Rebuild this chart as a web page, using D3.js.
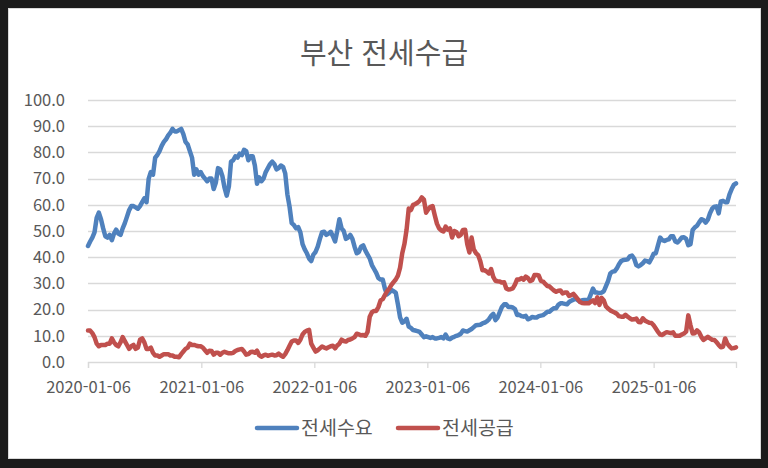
<!DOCTYPE html>
<html lang="ko">
<head>
<meta charset="utf-8">
<title>부산 전세수급</title>
<script src="https://d3js.org/d3.v7.min.js"></script>
<style>
  body { margin: 0; background: #1b1b1b; }
  svg { display: block; }
  .tick text { fill: #595959; }
</style>
</head>
<body>
<script>
// weekly index, starts 2020-01-06
var startDate = "2020-01-06";

var demand = [
  44.3, 46, 47.5, 49.5, 55, 57, 54.5, 51, 48, 47.5,
  48.5, 46.5, 49, 50.5, 49, 48.5, 51, 53, 55.5, 58,
  59.5, 59.5, 59, 58.5, 59.5, 61, 62.5, 61, 70, 72.5,
  71.5, 78, 79, 80.5, 82.5, 84, 85, 86.5, 87.5, 89,
  88, 88, 88.5, 89, 87, 84, 83, 80.5, 78, 71.5,
  73.5, 71.5, 72.5, 71, 70, 69, 70, 70, 66, 68.5,
  74, 73.5, 71, 66.5, 63.5, 67, 76.5, 77, 78.5, 78,
  79.5, 79, 81, 80.5, 77, 78.5, 78.5, 75, 68, 70.5,
  69, 70, 72.5, 74, 75.5, 76.5, 75.5, 73.5, 74, 75,
  74.5, 72, 64, 59.3, 53, 52.3, 51, 51.5, 49.5, 45,
  43, 41.5, 39.5, 38.5, 41, 42, 44, 47, 49.5, 49.7,
  48.5, 49, 49.7, 48, 46, 50, 54.5, 51, 50, 47,
  47.5, 48.5, 47, 44, 41.5, 42, 44, 44.5, 42.5, 41,
  39.5, 37, 35.5, 34, 32, 31.5, 31.5, 28, 25.8, 26.5,
  27.5, 27, 26.5, 22, 17, 15, 15.5, 16.5, 13.5, 13,
  12.2, 12, 11.8, 11.5, 10.5, 9.5, 9.8, 9.5, 9.2, 9.5,
  9, 9, 9.2, 9.5, 9, 10.5, 9, 8.7, 9.3, 9.6,
  10, 10.3, 10.8, 12, 11.8, 11.6, 12.1, 12.6, 13.3, 14,
  14.1, 14.2, 14.7, 15, 15.5, 16.3, 17.6, 18.4, 16, 17,
  19, 21, 22, 22, 21, 21, 20.8, 20.2, 17.9, 18,
  17.5, 17.3, 17.6, 16.3, 16.6, 17.2, 17, 17, 17.5, 17.7,
  17.9, 18.5, 19.2, 19.2, 20, 20.5, 20.5, 21.8, 22.4, 22.4,
  22.2, 22, 22.9, 23.4, 23.8, 24.2, 23.6, 23, 23.6, 23.7,
  23.7, 23.7, 25.8, 28, 26.5, 26.5, 26.3, 26.5, 27, 29,
  31, 33.8, 34.5, 34.6, 35.7, 37.3, 38.5, 38.9, 39, 39.2,
  40.3, 40.6, 39.5, 37, 36.5, 37, 37.7, 38.7, 38.5, 38,
  39.5, 41.3, 41.5, 44.5, 47.5, 46.5, 46.2, 46.6, 46.8, 48,
  48, 46, 45.6, 46.5, 47.5, 47.6, 47, 44.6, 45, 50.4,
  51.4, 52, 53.3, 54.5, 54.2, 53.2, 54.3, 56.8, 58.5, 59.3,
  59.4, 56.7, 61.3, 61.5, 61, 61, 64, 66, 67.6, 68.2
];

var supply = [
  12, 12, 11, 9.5, 7, 6, 6.5, 6.5, 6.5, 7,
  7, 9, 7.5, 6.5, 6, 7.5, 9.5, 8, 6.5, 5,
  6, 6.5, 5, 5.5, 8.5, 9, 7.5, 5, 5, 5.5,
  3.5, 2.5, 2.5, 2, 2.5, 3, 3, 3, 2.5, 2.5,
  2, 2, 1.8, 3, 4, 5, 5.5, 7, 6.5, 6.5,
  6.2, 6, 6, 5.5, 4.5, 3.5, 4.3, 4.2, 2.8, 3.5,
  3.5, 2.8, 3.5, 3.9, 3.6, 3.3, 3.3, 3.5, 4.2, 4.6,
  4.8, 5, 4, 2.8, 3, 3.8, 3.9, 3.5, 4.3, 2.6,
  2, 2.5, 2.8, 2.4, 2.6, 2.8, 2.5, 2.6, 3.2, 2.5,
  2, 3, 4.5, 6.2, 7.8, 8.2, 8.2, 7.3, 8.5, 10.5,
  11.5, 12, 12.3, 7, 5.5, 4, 4.5, 5.2, 5.9, 5.5,
  5.2, 5.6, 6, 6.2, 5.2, 6.3, 7, 8.5, 8, 7.8,
  8.4, 8.6, 9, 9.5, 10.8, 10.5, 10.2, 10.3, 10, 11.5,
  17.3, 19, 19.5, 19.5, 21, 23.5, 24, 25.5, 27, 28,
  29.4, 30.5, 31.5, 33, 36, 41.5, 45, 50.5, 58.6, 58,
  60, 60.3, 60.8, 61.5, 62.8, 62, 57, 58.3, 59.2, 59.5,
  56, 52.8, 51, 50.2, 49.8, 51.7, 50.5, 51, 47.5, 50,
  49.6, 48, 48.5, 50.4, 50.5, 45, 41.8, 47.5, 43, 41.6,
  40.8, 38.5, 35, 35, 34.5, 33.8, 35.5, 32.5, 31, 30.8,
  30.7, 30.3, 30.4, 28.1, 27.7, 27.8, 28.1, 29.5, 31.5, 31.5,
  32, 31.4, 32.6, 32, 30.9, 31.2, 33.2, 33.2, 33, 31,
  30.7, 29.8, 29, 28.8, 28, 27.3, 26.8, 27.2, 27.3, 26.2,
  26.5, 26.5, 25.2, 25.5, 26, 25, 24, 22.9, 22.5, 22.4,
  22.4, 22.4, 23, 23.5, 22.5, 24.7, 21.8, 24.5, 23.5, 21.2,
  20.4, 19.7, 19.3, 18.9, 18.4, 17.5, 17.3, 17.3, 18, 17.3,
  16.7, 16.2, 16.3, 16.6, 15.3, 15.2, 16.7, 15.8, 15.4, 15,
  14.9, 14, 12.8, 11.5, 10.5, 10.3, 10.9, 11.4, 11.2, 11,
  11.3, 10, 10, 10, 10.5, 10.9, 11.6, 17.8, 14, 10.9,
  11, 12.1, 11.3, 9.6, 8.4, 9, 9.6, 9, 8.5, 8.4,
  7.6, 6.5, 5.6, 5.8, 9, 7, 6, 5.2, 5.3, 5.6
];

var yTicks = [0, 10, 20, 30, 40, 50, 60, 70, 80, 90, 100];
var xTickLabels = ["2020-01-06", "2021-01-06", "2022-01-06", "2023-01-06", "2024-01-06", "2025-01-06"];
var seriesNames = ["전세수요", "전세공급"];
var seriesColors = ["#4f81bd", "#c0504d"];

var W = 768, H = 468;
var margin = {top: 100, right: 32, bottom: 106, left: 88};
var width = W - margin.left - margin.right,
    height = H - margin.top - margin.bottom;

var parse = d3.utcParse("%Y-%m-%d");
var fmt = d3.utcFormat("%Y-%m-%d");
var t0 = parse(startDate);
var dates = demand.map(function(d, i) { return d3.utcDay.offset(t0, 7 * i); });

var svg = d3.select("body").append("svg")
    .attr("width", W)
    .attr("height", H);

// chart area
svg.append("rect")
    .attr("x", 8.5).attr("y", 8.5)
    .attr("width", 752).attr("height", 450)
    .attr("fill", "#fff")
    .attr("stroke", "#d9d9d9");

svg.append("text")
    .attr("x", 384).attr("y", 64)
    .attr("text-anchor", "middle")
    .attr("font-family", "'Noto Sans CJK KR', sans-serif")
    .attr("font-size", "29px")
    .attr("fill", "#595959")
    .text("부산 전세수급");

var g = svg.append("g")
    .attr("transform", "translate(" + margin.left + "," + margin.top + ")");

var x = d3.scaleUtc()
    .domain([dates[0], dates[dates.length - 1]])
    .range([0, width]);

var y = d3.scaleLinear()
    .domain([0, 100])
    .range([height, 0]);

// gridlines
g.append("g")
  .selectAll("line")
  .data(yTicks.slice(1))
  .enter().append("line")
    .attr("x1", 0).attr("x2", width)
    .attr("y1", function(d) { return Math.round(y(d)) + 0.5; })
    .attr("y2", function(d) { return Math.round(y(d)) + 0.5; })
    .attr("stroke", "#d9d9d9")
    .attr("stroke-width", 1.3);

// y axis labels
var yAxis = g.append("g")
    .call(d3.axisLeft(y).tickValues(yTicks).tickSize(0).tickPadding(23)
      .tickFormat(d3.format(".1f")));
yAxis.select(".domain").remove();
yAxis.selectAll("text")
    .attr("font-family", "'Noto Sans CJK KR', sans-serif")
    .attr("font-size", "16.5px");

// x axis
var xAxis = g.append("g")
    .attr("transform", "translate(0," + height + ")")
    .call(d3.axisBottom(x).tickValues(xTickLabels.map(parse)).tickSize(6)
      .tickPadding(13).tickFormat(fmt));
xAxis.select(".domain").attr("stroke", "#d9d9d9").attr("stroke-width", 1.3);
xAxis.selectAll(".tick line").attr("stroke", "#d9d9d9").attr("stroke-width", 1.3);
xAxis.selectAll("text")
    .attr("font-family", "'Noto Sans CJK KR', sans-serif")
    .attr("font-size", "16.5px");

var line = d3.line()
    .x(function(d, i) { return x(dates[i]); })
    .y(function(d) { return y(d); });

[demand, supply].forEach(function(s, k) {
  g.append("path")
      .datum(s)
      .attr("fill", "none")
      .attr("stroke", seriesColors[k])
      .attr("stroke-width", 4.5)
      .attr("stroke-linejoin", "round")
      .attr("stroke-linecap", "round")
      .attr("d", line);
});

// legend
var legendX = [257, 398];
var legend = svg.append("g");
seriesNames.forEach(function(name, k) {
  legend.append("line")
      .attr("x1", legendX[k]).attr("x2", legendX[k] + 40)
      .attr("y1", 428).attr("y2", 428)
      .attr("stroke", seriesColors[k])
      .attr("stroke-width", 4.5)
      .attr("stroke-linecap", "round");
  legend.append("text")
      .attr("x", legendX[k] + 44).attr("y", 435)
      .attr("font-family", "'Noto Sans CJK KR', sans-serif")
      .attr("font-size", "19.5px")
      .attr("fill", "#595959")
      .text(name);
});
</script>
</body>
</html>
